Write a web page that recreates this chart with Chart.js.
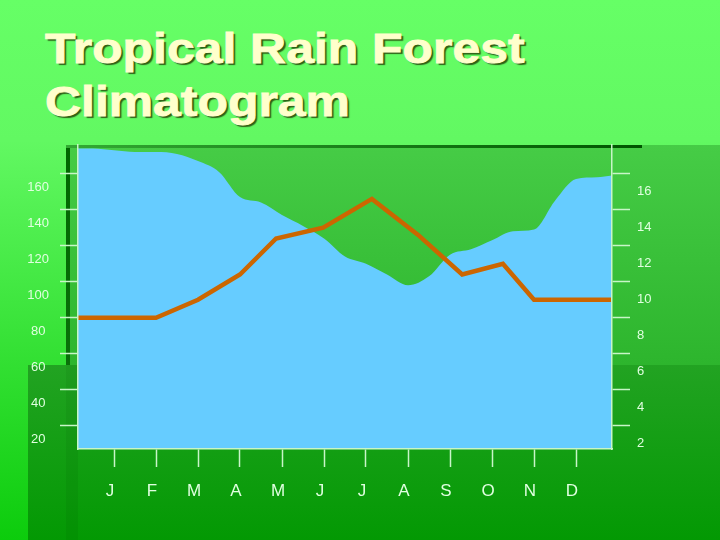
<!DOCTYPE html>
<html>
<head>
<meta charset="utf-8">
<title>Tropical Rain Forest Climatogram</title>
<script src="https://cdn.jsdelivr.net/npm/chart.js@4.4.1/dist/chart.umd.min.js"></script>
<style>
    html, body { margin: 0; padding: 0; }
    body {
        width: 720px; height: 540px; overflow: hidden; position: relative;
        background: linear-gradient(180deg, #66ff66 0%, #62f862 26%, #0ccc0c 100%);
        font-family: "Liberation Sans", Arial, sans-serif;
    }
    .panel-a {
        position: absolute; left: 66px; top: 145px; right: 0; bottom: 0;
        background: linear-gradient(180deg, #46cc46 0px, #2db52d 220px, #2db52d 100%);
    }
    .panel-a-left {
        position: absolute; left: 66px; top: 145px; width: 4px; height: 220px;
        background: linear-gradient(180deg, #006600, #0a700a);
    }
    .panel-a-top {
        position: absolute; left: 66px; top: 145px; width: 576px; height: 3px;
        background: linear-gradient(90deg, #33aa33, #005500);
    }
    .panel-b {
        position: absolute; left: 28px; top: 365px; right: 0; bottom: 0;
        background: linear-gradient(180deg, #22a322, #039903);
    }
    .panel-b-strip {
        position: absolute; left: 66px; top: 365px; width: 12px; bottom: 0;
        background: rgba(0, 60, 0, 0.08);
    }
    h1 {
        position: absolute; left: 45px; top: 22px; margin: 0;
        font-size: 43px; line-height: 53px; font-weight: bold;
        color: #ffffcc; -webkit-text-stroke: 0.9px #ffffcc;
        text-shadow: 2px 2px 1px #2f5f17;
        transform: scaleX(1.16); transform-origin: 0 0; white-space: nowrap;
    }
    canvas { position: absolute; left: 0; top: 0; }
</style>
</head>
<body>
<div class="panel-a"></div>
<div class="panel-a-left"></div>
<div class="panel-a-top"></div>
<div class="panel-b"></div>
<div class="panel-b-strip"></div>
<h1>Tropical Rain Forest<br>Climatogram</h1>
<canvas id="climateChart" width="720" height="540"></canvas>

<script>
const months = ["J", "F", "M", "A", "M", "J", "J", "A", "S", "O", "N", "D"];

// precipitation outline (mm), read every half month across the plot
const precipAt = [0.14, 0.5, 1, 1.5, 2, 2.5, 3, 3.5, 4, 4.5, 5, 5.5, 6, 6.5,
    7, 7.5, 8, 8.5, 9, 9.5, 10, 10.5, 11, 11.5, 12, 12.5, 12.86];
const precip = [174, 174, 173, 172, 172, 171, 167, 161, 147, 144, 137, 131, 124, 114,
    110, 104, 98, 103, 115, 118, 123, 128, 129, 145, 157, 158, 159];

// temperature (°C), one vertex per month as drawn
const tempAt = [0.14, 2, 3, 4, 4.86, 5.98, 7.14, 8.24, 9.29, 10.26, 11, 12.86];
const temp = [8, 8, 9, 10.4, 12.4, 13, 14.6, 12.6, 10.4, 11, 9, 9];

const precipTicks = [20, 40, 60, 80, 100, 120, 140, 160];
const tempTicks = [2, 4, 6, 8, 10, 12, 14, 16];

const lineColor = "#c8f5c8";
const labelColor = "#e0ffe0";
const family = "'Liberation Sans', Arial, sans-serif";

const ctx = document.getElementById("climateChart").getContext("2d");

new Chart(ctx, {
    type: "line",
    data: {
        datasets: [{
            label: "Temperature",
            yAxisID: "yT",
            data: tempAt.map((x, i) => ({ x: x, y: temp[i] })),
            borderColor: "#cc6600",
            borderWidth: 4.5,
            pointRadius: 0,
            tension: 0,
            fill: false,
            order: 1
        }, {
            label: "Precipitation",
            yAxisID: "yP",
            data: precipAt.map((x, i) => ({ x: x, y: precip[i] })),
            borderWidth: 0,
            backgroundColor: "#66ccff",
            pointRadius: 0,
            cubicInterpolationMode: "monotone",
            fill: "start",
            order: 2
        }]
    },
    options: {
        responsive: false,
        animation: false,
        layout: { padding: { top: 145, left: 0, right: 0, bottom: 0 } },
        plugins: {
            legend: { display: false },
            tooltip: { enabled: false }
        },
        scales: {
            x: {
                type: "linear",
                min: 1 / 7,
                max: 90 / 7,
                afterBuildTicks: s => { s.ticks = months.map((_, i) => ({ value: i + 1 })); },
                afterFit: s => { s.height = 91; },
                ticks: {
                    callback: (v, i) => months[i],
                    color: labelColor,
                    font: { size: 17, family: family },
                    padding: 14,
                    labelOffset: -4,
                    maxRotation: 0,
                    autoSkip: false
                },
                grid: { drawOnChartArea: false, tickLength: 18, tickColor: lineColor, tickWidth: 1.5 },
                border: { display: true, color: lineColor, width: 1.5, z: 1 }
            },
            yP: {
                type: "linear",
                position: "left",
                min: 7.06,
                max: 175.95,
                afterBuildTicks: s => { s.ticks = precipTicks.map(v => ({ value: v })); },
                afterFit: s => { s.width = 78; },
                ticks: {
                    color: labelColor,
                    font: { size: 13, family: family },
                    crossAlign: "center",
                    padding: 11,
                    labelOffset: 14
                },
                grid: { drawOnChartArea: false, tickLength: 18, tickColor: lineColor, tickWidth: 1.5 },
                border: { display: true, color: lineColor, width: 1.5, z: 1 }
            },
            yT: {
                type: "linear",
                position: "right",
                min: 0.706,
                max: 17.595,
                afterBuildTicks: s => { s.ticks = tempTicks.map(v => ({ value: v })); },
                afterFit: s => { s.width = 108; },
                ticks: {
                    color: labelColor,
                    font: { size: 13, family: family },
                    padding: 7,
                    labelOffset: 18
                },
                grid: { drawOnChartArea: false, tickLength: 18, tickColor: lineColor, tickWidth: 1.5 },
                border: { display: true, color: lineColor, width: 1.5, z: 1 }
            }
        }
    }
});
</script>
</body>
</html>
